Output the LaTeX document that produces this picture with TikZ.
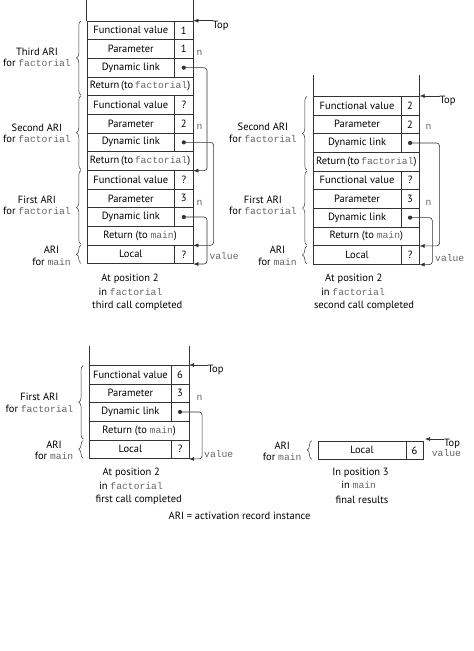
\documentclass[tikz,border=0pt]{standalone}
\usepackage{fontspec}
\setmainfont{PT Sans}
\setmonofont{Liberation Mono}
\usetikzlibrary{arrows.meta,decorations.pathreplacing}
\definecolor{codegray}{gray}{0.4}
\definecolor{linegray}{gray}{0.2}
\newcommand{\cw}[1]{{\ttfamily\fontsize{9.7}{11.6}\selectfont\color{codegray}#1}}
\tikzset{
	namecell/.style={draw=linegray, line width=0.6pt, minimum width=#1, minimum height=18.67pt, inner sep=0pt, anchor=north west},
	valcell/.style={draw=linegray, line width=0.6pt, minimum width=#1, minimum height=18.67pt, inner sep=0pt, anchor=north west},
	arilabel/.style={align=center, anchor=east, inner sep=0pt},
	aribrace/.style={draw=linegray, line width=0.5pt, decorate, decoration={brace, amplitude=4.5pt}},
	dlink/.style={draw=linegray, line width=0.6pt, rounded corners=3pt, -{Latex[length=5pt,width=4pt]}},
	toparrow/.style={draw=linegray, line width=0.6pt, -{Latex[length=5pt,width=4pt]}},
	stackline/.style={draw=linegray, line width=0.6pt},
	capt/.style={inner sep=0pt},
}
\begin{document}
\begin{tikzpicture}[x=1pt, y=-1pt, every node/.style={font=\fontsize{10.5}{11.6}\selectfont}]
		\useasboundingbox (0,0) rectangle (474,651);
		% third call completed
		\node[namecell=87.6pt] (a1) at (86.7,20.70) {Functional value};
		\node[valcell=18.4pt] (a1v) at (174.3,20.70) {1};
		\node[namecell=87.6pt] (a2) at (86.7,39.37) {Parameter};
		\node[valcell=18.4pt] (a2v) at (174.3,39.37) {1};
		\node[namecell=87.6pt] (a3) at (86.7,58.04) {Dynamic link};
		\node[valcell=18.4pt] (a3v) at (174.3,58.04) {};
		\node[namecell=106pt] (a4) at (86.7,76.71) {Return\,(to\,\cw{factorial})};
		\node[namecell=87.6pt] (a5) at (86.7,95.38) {Functional value};
		\node[valcell=18.4pt] (a5v) at (174.3,95.38) {?};
		\node[namecell=87.6pt] (a6) at (86.7,114.05) {Parameter};
		\node[valcell=18.4pt] (a6v) at (174.3,114.05) {2};
		\node[namecell=87.6pt] (a7) at (86.7,132.72) {Dynamic link};
		\node[valcell=18.4pt] (a7v) at (174.3,132.72) {};
		\node[namecell=106pt] (a8) at (86.7,151.39) {Return\,(to\,\cw{factorial})};
		\node[namecell=87.6pt] (a9) at (86.7,170.06) {Functional value};
		\node[valcell=18.4pt] (a9v) at (174.3,170.06) {?};
		\node[namecell=87.6pt] (a10) at (86.7,188.73) {Parameter};
		\node[valcell=18.4pt] (a10v) at (174.3,188.73) {3};
		\node[namecell=87.6pt] (a11) at (86.7,207.40) {Dynamic link};
		\node[valcell=18.4pt] (a11v) at (174.3,207.40) {};
		\node[namecell=106pt] (a12) at (86.7,226.07) {Return (to \cw{main})};
		\node[namecell=87.6pt] (a13) at (86.7,244.74) {Local};
		\node[valcell=18.4pt] (a13v) at (174.3,244.74) {?};
		\draw[stackline] (a1.north west) -- ++(0,-20.7);
		\draw[stackline] (a1v.north east) -- ++(0,-20.7);
		\node[capt, anchor=north west] (topa) at (212.5,20.7) {Top};
		\draw[toparrow] (topa.north west) -- (a1v.north east);
		\node[capt, anchor=west] (na1) at (196.4,52.5) {\cw{n}};
		\node[capt, anchor=west] (na2) at (196.4,127.3) {\cw{n}};
		\node[capt, anchor=west] (na3) at (196.4,202.7) {\cw{n}};
		\node[capt, anchor=west] (vala) at (209.3,256.2) {\cw{value}};
		\fill[linegray] (a3v.center) circle (2.1pt);
		\fill[linegray] (a7v.center) circle (2.1pt);
		\fill[linegray] (a11v.center) circle (2.1pt);
		\draw[dlink] (a3v.center) -- ++(23.2,0) |- (a8.south east);
		\draw[dlink] (a7v.center) -- ++(29.8,0) |- (a12.south east);
		\draw[dlink] (a11v.center) -- ++(23.2,0) |- (a13v.south east);
		\draw[aribrace] (81,95) -- (81,21);
		\draw[aribrace] (81,169.6) -- (81,95.8);
		\draw[aribrace] (81,244.3) -- (81,170.5);
		\draw[aribrace] (81,263.4) -- (81,245.2);
		\node[arilabel] (lab1) at (71,57.5) {Third ARI\\for \cw{factorial}};
		\node[arilabel] (lab2) at (71,133.3) {Second ARI\\for \cw{factorial}};
		\node[arilabel] (lab3) at (71,205.5) {First ARI\\for \cw{factorial}};
		\node[arilabel] (lab4) at (71,255.8) {ARI\\for \cw{main}};
		\node[capt] (cap1) at (130,279.3) {At position 2};
		\node[capt] (cap2) at (130.5,291.5) {in \cw{factorial}};
		\node[capt] (cap3) at (137.3,306) {third call completed};
		% second call completed
		\node[namecell=87.5pt] (b1) at (313,96.00) {Functional value};
		\node[valcell=18.5pt] (b1v) at (400.5,96.00) {2};
		\node[namecell=87.5pt] (b2) at (313,114.67) {Parameter};
		\node[valcell=18.5pt] (b2v) at (400.5,114.67) {2};
		\node[namecell=87.5pt] (b3) at (313,133.33) {Dynamic link};
		\node[valcell=18.5pt] (b3v) at (400.5,133.33) {};
		\node[namecell=106pt] (b4) at (313,152.00) {Return\,(to\,\cw{factorial})};
		\node[namecell=87.5pt] (b5) at (313,170.67) {Functional value};
		\node[valcell=18.5pt] (b5v) at (400.5,170.67) {?};
		\node[namecell=87.5pt] (b6) at (313,189.33) {Parameter};
		\node[valcell=18.5pt] (b6v) at (400.5,189.33) {3};
		\node[namecell=87.5pt] (b7) at (313,208.00) {Dynamic link};
		\node[valcell=18.5pt] (b7v) at (400.5,208.00) {};
		\node[namecell=106pt] (b8) at (313,226.67) {Return (to \cw{main})};
		\node[namecell=87.5pt] (b9) at (313,245.33) {Local};
		\node[valcell=18.5pt] (b9v) at (400.5,245.33) {?};
		\draw[stackline] (b1.north west) -- ++(0,-21);
		\draw[stackline] (b1v.north east) -- ++(0,-21);
		\node[capt, anchor=north west] (topb) at (439.5,96) {Top};
		\draw[toparrow] (topb.north west) -- (b1v.north east);
		\node[capt, anchor=west] (nb1) at (425.4,127.3) {\cw{n}};
		\node[capt, anchor=west] (nb2) at (425.4,202.7) {\cw{n}};
		\node[capt, anchor=west] (valb) at (435,258) {\cw{value}};
		\fill[linegray] (b3v.center) circle (2.1pt);
		\fill[linegray] (b7v.center) circle (2.1pt);
		\draw[dlink] (b3v.center) -- ++(29.5,0) |- (b8.south east);
		\draw[dlink] (b7v.center) -- ++(22.3,0) |- (b9v.south east);
		\draw[aribrace] (307,170.3) -- (307,96.5);
		\draw[aribrace] (307,245) -- (307,171.2);
		\draw[aribrace] (307,264) -- (307,245.8);
		\node[arilabel] (lab5) at (297,133) {Second ARI\\for \cw{factorial}};
		\node[arilabel] (lab6) at (297,205.5) {First ARI\\for \cw{factorial}};
		\node[arilabel] (lab7) at (297,255.8) {ARI\\for \cw{main}};
		\node[capt] (cap4) at (353.8,279.3) {At position 2};
		\node[capt] (cap5) at (353,291.7) {in \cw{factorial}};
		\node[capt] (cap6) at (364,306) {second call completed};
		% first call completed
		\node[namecell=81.7pt] (c1) at (89.3,365.00) {Functional value};
		\node[valcell=17.5pt] (c1v) at (171,365.00) {6};
		\node[namecell=81.7pt] (c2) at (89.3,383.67) {Parameter};
		\node[valcell=17.5pt] (c2v) at (171,383.67) {3};
		\node[namecell=81.7pt] (c3) at (89.3,402.33) {Dynamic link};
		\node[valcell=17.5pt] (c3v) at (171,402.33) {};
		\node[namecell=99.2pt] (c4) at (89.3,421.00) {Return (to \cw{main})};
		\node[namecell=81.7pt] (c5) at (89.3,439.67) {Local};
		\node[valcell=17.5pt] (c5v) at (171,439.67) {?};
		\draw[stackline] (c1.north west) -- ++(0,-19);
		\draw[stackline] (c1v.north east) -- ++(0,-19);
		\node[capt, anchor=north west] (topc) at (207.5,365) {Top};
		\draw[toparrow] (topc.north west) -- (c1v.north east);
		\node[capt, anchor=west] (nc1) at (196.4,398.3) {\cw{n}};
		\node[capt, anchor=west] (valc) at (204,454.3) {\cw{value}};
		\fill[linegray] (c3v.center) circle (2.1pt);
		\draw[dlink] (c3v.center) -- ++(22,0) |- (c5v.south east);
		\draw[aribrace] (83.3,439) -- (83.3,365.5);
		\draw[aribrace] (83.3,458.3) -- (83.3,440.3);
		\node[arilabel] (lab8) at (73.5,402.8) {First ARI\\for \cw{factorial}};
		\node[arilabel] (lab9) at (73.5,450.3) {ARI\\for \cw{main}};
		\node[capt] (cap7) at (131.3,473.3) {At position 2};
		\node[capt] (cap8) at (131,485.7) {in \cw{factorial}};
		\node[capt] (cap9) at (138.7,500) {first call completed};
		% final results
		\node[namecell=88pt] (d1) at (317.7,440.7) {Local};
		\node[valcell=17pt] (d1v) at (405.7,440.7) {6};
		\node[capt, anchor=north west] (topd) at (444,439) {Top};
		\draw[toparrow] (topd.north west) -- ++(-19,0);
		\node[capt, anchor=west] (vald) at (431.7,453.3) {\cw{value}};
		\draw[aribrace] (311.7,459.3) -- (311.7,440.7);
		\node[arilabel] (lab10) at (301.7,451.3) {ARI\\for \cw{main}};
		\node[capt] (cap10) at (360.5,472.7) {In position 3};
		\node[capt] (cap11) at (358.7,485) {in \cw{main}};
		\node[capt] (cap12) at (362,500) {final results};
		\node[capt] (legend) at (239.5,515.7) {ARI = activation record instance};
	\end{tikzpicture}
\end{document}
